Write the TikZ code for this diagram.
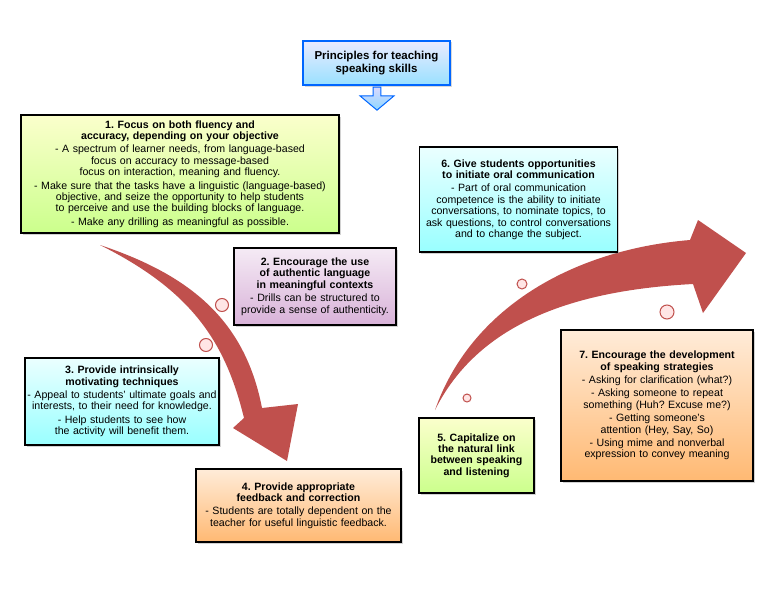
\documentclass[tikz,border=0pt]{standalone}
\usepackage{fontspec}
\setmainfont{Liberation Sans}
\usetikzlibrary{shadows,shapes.arrows}
\definecolor{arrowred}{HTML}{C0504D}
\frenchspacing
\begin{document}
\hyphenpenalty=10000 \exhyphenpenalty=10000
\begin{tikzpicture}[x=1pt,y=-1pt,
  box/.style={draw=black,line width=1.4pt,rectangle,align=center,inner sep=2pt,
    font=\fontsize{10.6}{11.4}\selectfont,drop shadow={shadow xshift=1.5pt,shadow yshift=-1.5pt,opacity=.35}},
  green/.style={box,top color=green!8!yellow!20,bottom color=green!45!yellow!45!white},
  blue/.style={box,top color=cyan!8,bottom color=cyan!40},
  lav/.style={box,top color=violet!8,bottom color=violet!30},
  orng/.style={box,top color=orange!15,bottom color=orange!55},
  dot/.style={circle,draw=arrowred,line width=1pt,fill=red!10,inner sep=0pt},
  redarrow/.style={fill=arrowred,draw=none}]
\useasboundingbox (0,0) rectangle (768,594);
\fill[white] (0,0) rectangle (768,594);
% left arrow
\fill[redarrow] (100,245) .. controls (190,275) and (245,320) .. (262,408)
  -- (298,404) -- (287,461) -- (233,428) -- (244,418)
  .. controls (225,340) and (190,290) .. (100,245) -- cycle;
% right arrow
\fill[redarrow] (435,410) .. controls (470,310) and (570,250) .. (690,240)
  -- (698,220) -- (746,253) -- (703,313) -- (693,284)
  .. controls (580,290) and (480,320) .. (435,410) -- cycle;
% dots
\node[dot,minimum size=13pt] (d1) at (222,305) {};
\node[dot,minimum size=13pt] (d2) at (206,345) {};
\node[dot,minimum size=10pt] (d3) at (522,284) {};
\node[dot,minimum size=14pt] (d4) at (667,312) {};
\node[dot,minimum size=8pt] (d5) at (467,398) {};
% title
\node[draw=blue!60!cyan,line width=1.2pt,top color=blue!8,bottom color=blue!30!cyan!40,
  minimum width=147pt,minimum height=44pt,align=center,font=\bfseries\fontsize{11.5}{13.5}\selectfont,
  drop shadow={shadow xshift=1.5pt,shadow yshift=-1.5pt,opacity=.3}] (t) at (376.5,63) {Principles for teaching\\speaking skills};
\node[single arrow,shape border rotate=270,draw=blue!60!cyan,line width=1pt,top color=blue!15,bottom color=blue!35!cyan!45,
  minimum height=23pt,minimum width=34pt,single arrow head extend=5pt,single arrow tip angle=100,inner sep=1pt] (ta) at (377,97) {};
% boxes
\node[green,minimum width=318pt,minimum height=118pt,text width=312pt] (b1) at (180,174)
 {\textbf{1. Focus on both fluency and accuracy, depending on your objective}\\[2pt]
 - A spectrum of learner needs, from language-based focus on accuracy to message-based focus on interaction, meaning and fluency.\\[2pt]
 - Make sure that the tasks have a linguistic (language-based) objective, and seize the opportunity to help students to perceive and use the building blocks of language.\\[2pt]
 - Make any drilling as meaningful as possible.};
\node[lav,minimum width=162pt,minimum height=77pt,text width=158pt] (b2) at (315,286.5)
 {\textbf{2. Encourage the use of authentic language in meaningful contexts}\\[2pt]
 - Drills can be structured to provide a sense of authenticity.};
\node[blue,minimum width=197pt,minimum height=105pt,text width=194pt] (b6) at (518.5,199.5)
 {\textbf{6. Give students opportunities to initiate oral communication}\\[2pt]
 - Part of oral communication competence is the ability to initiate conversations, to nominate topics, to ask questions, to control conversations and to change the subject.};
\node[blue,minimum width=192pt,minimum height=87pt,text width=190pt] (b3) at (122,401.5)
 {\textbf{3. Provide intrinsically motivating techniques}\\[2pt]
 - Appeal to students' ultimate goals and interests, to their need for knowledge.\\[2pt]
 - Help students to see how the activity will benefit them.};
\node[orng,minimum width=205pt,minimum height=73pt,text width=195pt] (b4) at (298.5,505.5)
 {\textbf{4. Provide appropriate feedback and correction}\\[2pt]
 - Students are totally dependent on the teacher for useful linguistic feedback.};
\node[green,minimum width=113pt,minimum height=75pt,text width=111pt] (b5) at (476.5,455.5)
 {\textbf{5. Capitalize on the natural link between speaking and listening}};
\node[orng,minimum width=192pt,minimum height=151pt,text width=186pt] (b7) at (657,405.5)
 {\textbf{7. Encourage the development of speaking strategies}\\[2pt]
 - Asking for clarification (what?)\\[2pt]
 - Asking someone to repeat something (Huh? Excuse me?)\\[2pt]
 - Getting someone's attention (Hey, Say, So)\\[2pt]
 - Using mime and nonverbal expression to convey meaning};
\end{tikzpicture}
\end{document}
